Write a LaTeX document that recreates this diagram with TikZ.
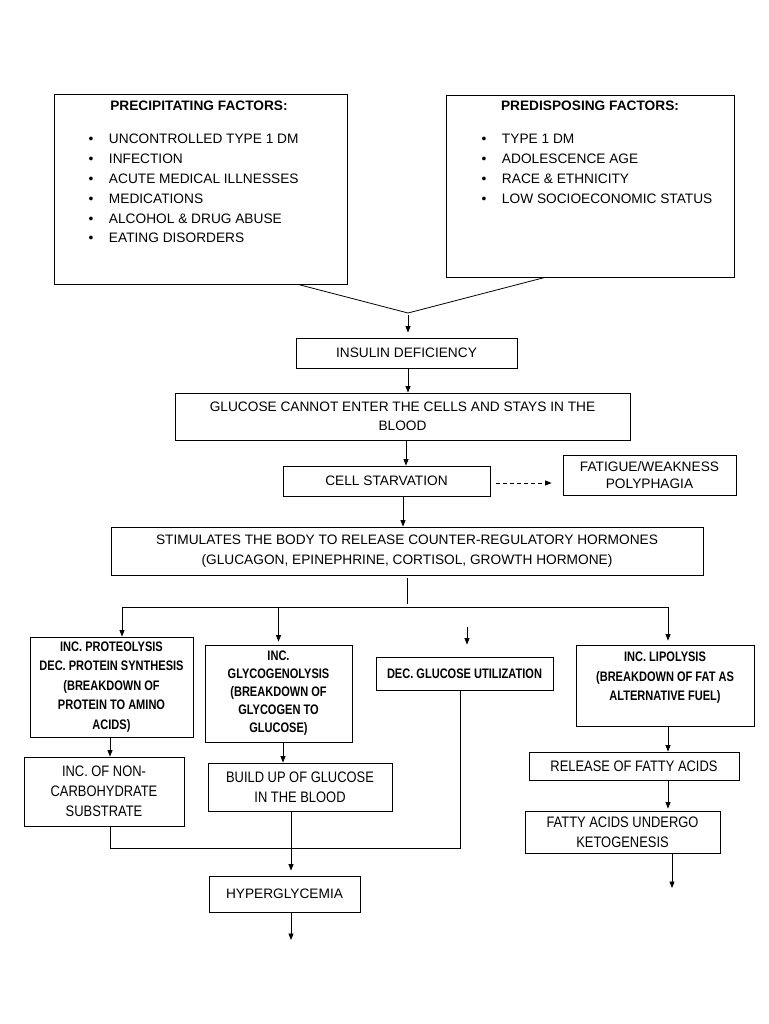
\documentclass[tikz,border=0pt]{standalone}
\usepackage{fontspec}
\setmainfont{Liberation Sans}
\newfontfamily\narrowsans[FakeStretch=0.85]{Liberation Sans}
\newfontfamily\narrowbold[FakeStretch=0.8]{Liberation Sans}
\usetikzlibrary{arrows.meta,positioning}

\newcommand{\itm}{\textbullet\hspace{15.5pt}}

\tikzset{
  box/.style={draw, line width=0.8pt, align=center, inner sep=2pt,
    font=\fontsize{13.7}{19.5}\selectfont},
  boldbox/.style={box, font=\narrowbold\bfseries\fontsize{13.8}{19.5}\selectfont},
  narrowbox/.style={box, font=\narrowsans\fontsize{15.2}{20}\selectfont},
  listtext/.style={align=left, inner sep=0pt, anchor=north west,
    font=\fontsize{13.7}{19.8}\selectfont},
  headtext/.style={inner sep=0pt, font=\bfseries\fontsize{13.7}{16}\selectfont},
  flow/.style={line width=0.8pt, -{Triangle[length=6.5pt,width=5pt]}},
  link/.style={line width=0.8pt}
}

\begin{document}
\begin{tikzpicture}[x=1pt,y=-1pt]
        \fill[white] (0,0) rectangle (768,1024);
        \useasboundingbox (0,0) rectangle (768,1024);

        % factors
        \node[box, minimum width=293, minimum height=190] (precip) at (200.5,189) {};
        \node[box, minimum width=288, minimum height=182] (predisp) at (590,186) {};
        \node[headtext] (precipHead) at (199,106) {PRECIPITATING FACTORS:};
        \node[headtext] (predispHead) at (590,106) {PREDISPOSING FACTORS:};
        \node[listtext] (precipList) at (88.5,134.2) {\itm UNCONTROLLED TYPE 1 DM\\ \itm INFECTION\\
          \itm ACUTE MEDICAL ILLNESSES\\ \itm MEDICATIONS\\ \itm ALCOHOL \& DRUG ABUSE\\ \itm EATING DISORDERS};
        \node[listtext] (predispList) at (481.5,134.2) {\itm TYPE 1 DM\\ \itm ADOLESCENCE AGE\\
          \itm RACE \& ETHNICITY\\ \itm LOW SOCIOECONOMIC STATUS};

        % main chain
        \node[box, minimum width=221, minimum height=30] (insulin) at (406.5,353) {INSULIN DEFICIENCY};
        \node[box, minimum width=455, minimum height=47] (glucose) at (402.5,416.5)
          {GLUCOSE CANNOT ENTER THE CELLS AND STAYS IN THE\\BLOOD};
        \node[box, minimum width=207, minimum height=30] (starve) at (386.5,481) {CELL STARVATION};
        \node[box, minimum width=173, minimum height=40, font=\fontsize{13.7}{17.5}\selectfont] (fatigue)
          at (649.5,475) {FATIGUE/WEAKNESS\\POLYPHAGIA};
        \node[box, minimum width=592, minimum height=48] (stim) at (407,551)
          {STIMULATES THE BODY TO RELEASE COUNTER-REGULATORY HORMONES\\(GLUCAGON, EPINEPHRINE, CORTISOL, GROWTH HORMONE)};

        % effects
        \node[boldbox, minimum width=163, minimum height=100] (prot) at (111.5,687)
          {INC. PROTEOLYSIS\\DEC. PROTEIN SYNTHESIS\\(BREAKDOWN OF\\PROTEIN TO AMINO\\ACIDS)};
        \node[boldbox, minimum width=147, minimum height=97, font=\narrowbold\bfseries\fontsize{13.8}{18}\selectfont] (glyco)
          at (278.5,693.5) {INC.\\GLYCOGENOLYSIS\\(BREAKDOWN OF\\GLYCOGEN TO\\GLUCOSE)};
        \node[boldbox, minimum width=177, minimum height=33] (util) at (464.5,673.5) {DEC. GLUCOSE UTILIZATION};
        \node[boldbox, minimum width=178, minimum height=81, text depth=18pt] (lipo) at (665,685.5)
          {INC. LIPOLYSIS\\(BREAKDOWN OF FAT AS\\ALTERNATIVE FUEL)};
        \node[narrowbox, minimum width=160, minimum height=69] (noncarb) at (104,791.5)
          {INC. OF NON-\\CARBOHYDRATE\\SUBSTRATE};
        \node[narrowbox, minimum width=184, minimum height=48] (buildup) at (300,787)
          {BUILD UP OF GLUCOSE\\IN THE BLOOD};
        \node[box, minimum width=151, minimum height=36] (hyper) at (284.5,894) {HYPERGLYCEMIA};
        \node[narrowbox, minimum width=210, minimum height=28] (release) at (634,766) {RELEASE OF FATTY ACIDS};
        \node[narrowbox, minimum width=195, minimum height=42] (keto) at (622.5,832)
          {FATTY ACIDS UNDERGO\\KETOGENESIS};

        \coordinate (join) at (408,313);
        \coordinate (dashStart) at (490,483);
        \coordinate (busL) at (122,607);
        \coordinate (busR) at (668,607);
        \coordinate (utilTop) at (467,627);
        \coordinate (utilFoot) at ([xshift=-4.5]util.south);
        \coordinate (merge) at (291,848);
        \coordinate (hyperEnd) at (291,940);
        \coordinate (ketoEnd) at (672,888);

        \draw[link] ([xshift=97.5]precip.south) -- (join);
        \draw[link] ([xshift=-45]predisp.south) -- (join);
        \draw[flow, shorten <=2, shorten >=5] (join) -- (join |- insulin.north);
        \draw[flow] (insulin.south -| join) -- (glucose.north -| join);
        \draw[flow] ([xshift=3.5]glucose.south) -- ([xshift=19.5]starve.north);
        \draw[flow, dash pattern=on 4pt off 3pt, shorten <=6, shorten >=11] (dashStart) -- (dashStart -| fatigue.west);
        \draw[flow] ([xshift=16.5]starve.south) -- ([xshift=-4]stim.north);

        \draw[link, shorten <=3, shorten >=3] (stim.south) -- (stim.south |- busL);
        \draw[link] (busL) -- (busR);
        \draw[flow] (busL) -- (busL |- prot.north);
        \draw[flow, shorten >=3] (glyco.north |- busL) -- (glyco.north);
        \draw[flow, shorten >=12] (utilTop) -- (utilTop |- util.north);
        \draw[flow, shorten >=4] (busR) -- (busR |- lipo.north);

        \draw[flow] ([xshift=-1.5]prot.south) -- ([xshift=6]noncarb.north);
        \draw[flow] ([xshift=4.5]glyco.south) -- ([xshift=-17]buildup.north);
        \draw[link] ([xshift=6]noncarb.south) |- (utilFoot |- merge) -- (utilFoot);
        \draw[link] ([xshift=-9]buildup.south) -- (merge);
        \draw[flow, shorten >=5] (merge) -- (merge |- hyper.north);
        \draw[flow] (hyper.south -| merge) -- (hyperEnd);

        \draw[flow] ([xshift=3]lipo.south) -- ([xshift=34]release.north);
        \draw[flow, shorten >=2] ([xshift=34]release.south) -- ([xshift=45.5]keto.north);
        \draw[flow] ([xshift=49.5]keto.south) -- (ketoEnd);
\end{tikzpicture}
\end{document}
